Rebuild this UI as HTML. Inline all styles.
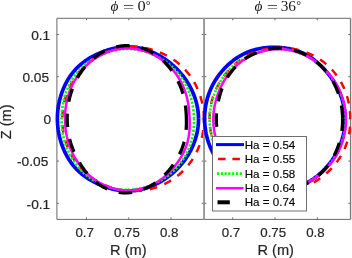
<!DOCTYPE html>
<html><head><meta charset="utf-8"><title>plot</title>
<style>html,body{margin:0;padding:0;background:#fff}svg{display:block;filter:blur(0.25px)}</style></head>
<body>
<svg width="352" height="258" viewBox="0 0 352 258">
<rect width="352" height="258" fill="#fff"/>
<g stroke="#686868" stroke-width="1" fill="none">
<path d="M203.70 18.30H56.90V219.40H203.70"/>
<path d="M86.50 18.30v2.00 M86.50 219.40v-2.00 M128.75 18.30v2.00 M128.75 219.40v-2.00 M171.00 18.30v2.00 M171.00 219.40v-2.00 M56.90 203.28h2.00 M203.70 203.28h-2.00 M56.90 161.09h2.00 M203.70 161.09h-2.00 M56.90 118.90h2.00 M203.70 118.90h-2.00 M56.90 76.71h2.00 M203.70 76.71h-2.00 M56.90 34.53h2.00 M203.70 34.53h-2.00"/>
</g>
<path d="M198.50 118.90 L198.48 117.67 L198.44 116.44 L198.38 115.21 L198.29 113.98 L198.18 112.76 L198.05 111.54 L197.89 110.32 L197.71 109.10 L197.51 107.89 L197.28 106.68 L197.04 105.48 L196.77 104.28 L196.48 103.09 L196.17 101.90 L195.84 100.72 L195.48 99.55 L195.11 98.38 L194.72 97.22 L194.30 96.07 L193.87 94.93 L193.42 93.79 L192.94 92.66 L192.45 91.54 L191.94 90.43 L191.41 89.33 L190.87 88.24 L190.30 87.16 L189.72 86.08 L189.12 85.02 L188.50 83.97 L187.87 82.93 L187.22 81.90 L186.55 80.88 L185.87 79.87 L185.17 78.87 L184.45 77.89 L183.72 76.91 L182.98 75.95 L182.22 75.00 L181.44 74.06 L180.65 73.13 L179.85 72.22 L179.03 71.31 L178.20 70.42 L177.36 69.54 L176.50 68.68 L175.63 67.83 L174.74 66.99 L173.85 66.16 L172.94 65.35 L172.02 64.55 L171.08 63.76 L170.13 62.99 L169.17 62.23 L168.20 61.49 L167.22 60.76 L166.22 60.04 L165.22 59.34 L164.20 58.66 L163.17 57.99 L162.12 57.34 L161.07 56.70 L160.01 56.08 L158.93 55.47 L157.85 54.89 L156.76 54.31 L155.65 53.76 L154.54 53.22 L153.41 52.70 L152.28 52.20 L151.13 51.72 L149.98 51.25 L148.82 50.81 L147.65 50.39 L146.47 49.98 L145.28 49.60 L144.08 49.24 L142.88 48.90 L141.67 48.59 L140.45 48.30 L139.22 48.03 L137.99 47.79 L136.76 47.57 L135.52 47.38 L134.27 47.22 L133.02 47.08 L131.77 46.97 L130.51 46.88 L129.26 46.83 L128.00 46.80 L126.74 46.80 L125.48 46.83 L124.23 46.89 L122.97 46.97 L121.72 47.09 L120.47 47.22 L119.22 47.39 L117.98 47.57 L116.74 47.79 L115.50 48.02 L114.27 48.28 L113.05 48.56 L111.83 48.86 L110.62 49.18 L109.41 49.52 L108.21 49.88 L107.02 50.26 L105.83 50.66 L104.65 51.08 L103.47 51.51 L102.30 51.96 L101.14 52.42 L99.98 52.90 L98.83 53.39 L97.69 53.90 L96.56 54.43 L95.43 54.97 L94.31 55.53 L93.19 56.11 L92.09 56.70 L90.99 57.31 L89.91 57.94 L88.83 58.59 L87.77 59.26 L86.72 59.94 L85.68 60.65 L84.65 61.37 L83.64 62.12 L82.64 62.88 L81.65 63.66 L80.68 64.47 L79.73 65.29 L78.80 66.14 L77.88 67.00 L76.98 67.88 L76.10 68.79 L75.25 69.71 L74.41 70.65 L73.59 71.61 L72.80 72.58 L72.02 73.57 L71.27 74.58 L70.54 75.60 L69.82 76.63 L69.13 77.68 L68.46 78.74 L67.81 79.81 L67.18 80.90 L66.58 81.99 L65.99 83.10 L65.42 84.21 L64.87 85.34 L64.35 86.47 L63.84 87.61 L63.35 88.75 L62.89 89.91 L62.44 91.07 L62.01 92.24 L61.60 93.41 L61.20 94.59 L60.83 95.77 L60.48 96.96 L60.14 98.15 L59.83 99.35 L59.53 100.55 L59.25 101.76 L59.00 102.97 L58.76 104.18 L58.54 105.40 L58.34 106.62 L58.16 107.84 L57.99 109.06 L57.85 110.29 L57.73 111.51 L57.63 112.74 L57.54 113.97 L57.48 115.20 L57.43 116.44 L57.41 117.67 L57.40 118.90 L57.41 120.13 L57.45 121.36 L57.50 122.59 L57.57 123.83 L57.66 125.05 L57.77 126.28 L57.90 127.51 L58.05 128.73 L58.21 129.95 L58.40 131.17 L58.61 132.39 L58.83 133.60 L59.08 134.81 L59.34 136.02 L59.62 137.22 L59.93 138.42 L60.25 139.61 L60.59 140.80 L60.95 141.99 L61.32 143.17 L61.72 144.34 L62.13 145.51 L62.57 146.67 L63.02 147.83 L63.49 148.98 L63.98 150.12 L64.49 151.26 L65.02 152.39 L65.57 153.50 L66.14 154.61 L66.73 155.71 L67.34 156.81 L67.97 157.88 L68.62 158.95 L69.29 160.01 L69.98 161.05 L70.69 162.08 L71.43 163.10 L72.18 164.10 L72.95 165.09 L73.75 166.06 L74.56 167.02 L75.40 167.95 L76.25 168.87 L77.12 169.78 L78.02 170.66 L78.93 171.52 L79.86 172.36 L80.81 173.19 L81.77 173.99 L82.75 174.78 L83.75 175.54 L84.75 176.29 L85.78 177.01 L86.81 177.72 L87.86 178.41 L88.92 179.08 L89.99 179.73 L91.07 180.36 L92.16 180.98 L93.26 181.58 L94.37 182.16 L95.48 182.72 L96.61 183.26 L97.74 183.79 L98.88 184.31 L100.02 184.81 L101.18 185.29 L102.34 185.76 L103.50 186.21 L104.67 186.64 L105.85 187.06 L107.04 187.46 L108.23 187.85 L109.43 188.21 L110.63 188.56 L111.84 188.88 L113.06 189.19 L114.28 189.47 L115.51 189.73 L116.74 189.97 L117.98 190.18 L119.22 190.38 L120.47 190.54 L121.72 190.69 L122.97 190.80 L124.23 190.89 L125.48 190.96 L126.74 190.99 L128.00 191.00 L129.26 190.98 L130.52 190.93 L131.77 190.85 L133.02 190.75 L134.27 190.62 L135.52 190.46 L136.76 190.28 L138.00 190.07 L139.24 189.84 L140.46 189.58 L141.68 189.30 L142.90 188.99 L144.11 188.66 L145.31 188.31 L146.50 187.94 L147.68 187.54 L148.86 187.13 L150.03 186.69 L151.18 186.23 L152.33 185.76 L153.47 185.26 L154.60 184.75 L155.73 184.22 L156.84 183.67 L157.94 183.10 L159.03 182.52 L160.11 181.92 L161.18 181.30 L162.24 180.67 L163.29 180.02 L164.33 179.36 L165.35 178.68 L166.37 177.98 L167.37 177.27 L168.36 176.54 L169.34 175.80 L170.30 175.04 L171.26 174.27 L172.20 173.48 L173.12 172.68 L174.04 171.86 L174.94 171.03 L175.83 170.19 L176.71 169.34 L177.57 168.47 L178.42 167.59 L179.25 166.69 L180.07 165.79 L180.88 164.87 L181.67 163.93 L182.45 162.99 L183.21 162.03 L183.95 161.06 L184.68 160.08 L185.40 159.09 L186.10 158.09 L186.78 157.07 L187.44 156.05 L188.09 155.01 L188.73 153.96 L189.34 152.90 L189.94 151.83 L190.52 150.75 L191.08 149.66 L191.62 148.57 L192.14 147.46 L192.65 146.34 L193.13 145.22 L193.60 144.08 L194.05 142.94 L194.47 141.79 L194.88 140.63 L195.27 139.47 L195.63 138.29 L195.98 137.11 L196.30 135.93 L196.60 134.74 L196.89 133.54 L197.14 132.34 L197.38 131.13 L197.60 129.92 L197.79 128.71 L197.96 127.49 L198.11 126.27 L198.23 125.04 L198.33 123.82 L198.41 122.59 L198.46 121.36 L198.49 120.13 L198.50 118.90" fill="none" stroke="#0000ff" stroke-width="3.7" stroke-linejoin="round"/>
<path d="M204.00 118.90 L203.98 117.57 L203.93 116.25 L203.86 114.92 L203.77 113.60 L203.65 112.28 L203.51 110.96 L203.35 109.65 L203.16 108.34 L202.95 107.03 L202.72 105.72 L202.47 104.42 L202.19 103.13 L201.90 101.84 L201.57 100.56 L201.23 99.28 L200.87 98.01 L200.48 96.74 L200.07 95.48 L199.64 94.23 L199.19 92.99 L198.72 91.75 L198.22 90.53 L197.70 89.31 L197.17 88.10 L196.61 86.91 L196.03 85.72 L195.43 84.54 L194.81 83.38 L194.17 82.22 L193.51 81.08 L192.82 79.95 L192.12 78.83 L191.39 77.73 L190.65 76.64 L189.88 75.57 L189.10 74.51 L188.29 73.47 L187.47 72.44 L186.62 71.43 L185.76 70.44 L184.87 69.46 L183.97 68.50 L183.05 67.56 L182.11 66.65 L181.15 65.75 L180.18 64.87 L179.19 64.01 L178.18 63.17 L177.15 62.36 L176.11 61.56 L175.06 60.79 L173.99 60.03 L172.91 59.30 L171.82 58.59 L170.71 57.90 L169.60 57.23 L168.47 56.58 L167.33 55.95 L166.19 55.35 L165.03 54.76 L163.87 54.19 L162.70 53.65 L161.52 53.12 L160.33 52.62 L159.14 52.13 L157.94 51.66 L156.73 51.21 L155.52 50.78 L154.31 50.37 L153.08 49.98 L151.86 49.61 L150.63 49.26 L149.39 48.92 L148.16 48.61 L146.91 48.32 L145.66 48.05 L144.41 47.80 L143.16 47.58 L141.90 47.37 L140.64 47.19 L139.38 47.03 L138.12 46.90 L136.85 46.79 L135.59 46.70 L134.32 46.63 L133.06 46.60 L131.79 46.58 L130.53 46.59 L129.26 46.63 L128.00 46.69 L126.74 46.78 L125.49 46.89 L124.23 47.03 L122.99 47.19 L121.74 47.38 L120.51 47.59 L119.27 47.83 L118.05 48.09 L116.83 48.37 L115.62 48.68 L114.41 49.01 L113.22 49.36 L112.03 49.73 L110.85 50.13 L109.68 50.54 L108.52 50.98 L107.37 51.43 L106.23 51.91 L105.10 52.41 L103.98 52.92 L102.88 53.45 L101.78 54.00 L100.69 54.57 L99.62 55.16 L98.56 55.76 L97.51 56.38 L96.47 57.01 L95.44 57.67 L94.43 58.33 L93.43 59.02 L92.44 59.72 L91.47 60.43 L90.51 61.17 L89.56 61.91 L88.63 62.67 L87.71 63.45 L86.81 64.23 L85.92 65.04 L85.04 65.85 L84.18 66.68 L83.34 67.52 L82.51 68.38 L81.70 69.24 L80.90 70.12 L80.11 71.01 L79.35 71.92 L78.60 72.83 L77.86 73.76 L77.14 74.69 L76.44 75.64 L75.76 76.59 L75.09 77.56 L74.44 78.54 L73.80 79.52 L73.18 80.52 L72.58 81.52 L71.99 82.53 L71.43 83.55 L70.87 84.58 L70.34 85.61 L69.82 86.65 L69.32 87.70 L68.84 88.76 L68.37 89.82 L67.92 90.89 L67.49 91.96 L67.08 93.04 L66.68 94.12 L66.30 95.22 L65.94 96.31 L65.59 97.41 L65.26 98.52 L64.95 99.62 L64.66 100.74 L64.38 101.85 L64.12 102.97 L63.88 104.10 L63.66 105.22 L63.45 106.35 L63.26 107.48 L63.08 108.62 L62.93 109.75 L62.79 110.89 L62.67 112.03 L62.56 113.18 L62.48 114.32 L62.41 115.46 L62.35 116.61 L62.32 117.75 L62.30 118.90 L62.30 120.05 L62.31 121.19 L62.35 122.34 L62.40 123.49 L62.46 124.63 L62.55 125.78 L62.65 126.92 L62.77 128.07 L62.91 129.21 L63.06 130.35 L63.23 131.49 L63.42 132.63 L63.63 133.76 L63.86 134.89 L64.10 136.02 L64.36 137.15 L64.64 138.27 L64.94 139.39 L65.26 140.50 L65.59 141.61 L65.94 142.72 L66.31 143.82 L66.70 144.92 L67.11 146.01 L67.53 147.10 L67.98 148.18 L68.44 149.25 L68.92 150.31 L69.41 151.37 L69.93 152.43 L70.46 153.47 L71.01 154.51 L71.58 155.54 L72.17 156.56 L72.78 157.57 L73.40 158.57 L74.04 159.56 L74.70 160.54 L75.37 161.52 L76.07 162.48 L76.78 163.43 L77.51 164.37 L78.25 165.29 L79.01 166.21 L79.79 167.11 L80.58 168.00 L81.40 168.88 L82.22 169.74 L83.07 170.59 L83.93 171.43 L84.80 172.25 L85.69 173.05 L86.59 173.85 L87.51 174.62 L88.45 175.39 L89.40 176.13 L90.36 176.86 L91.33 177.58 L92.32 178.28 L93.33 178.96 L94.34 179.62 L95.37 180.27 L96.41 180.90 L97.46 181.52 L98.52 182.11 L99.60 182.69 L100.68 183.25 L101.78 183.79 L102.89 184.32 L104.01 184.82 L105.13 185.31 L106.27 185.78 L107.42 186.23 L108.57 186.66 L109.74 187.07 L110.91 187.46 L112.09 187.83 L113.27 188.18 L114.47 188.51 L115.67 188.82 L116.88 189.11 L118.09 189.38 L119.32 189.63 L120.54 189.86 L121.77 190.07 L123.01 190.26 L124.25 190.42 L125.50 190.57 L126.75 190.70 L128.00 190.80 L129.26 190.88 L130.52 190.94 L131.78 190.99 L133.04 191.00 L134.31 191.00 L135.58 190.98 L136.84 190.93 L138.11 190.86 L139.38 190.77 L140.65 190.65 L141.92 190.52 L143.19 190.36 L144.46 190.18 L145.72 189.97 L146.98 189.75 L148.24 189.50 L149.50 189.22 L150.75 188.93 L152.00 188.61 L153.25 188.27 L154.49 187.90 L155.72 187.52 L156.95 187.11 L158.17 186.67 L159.39 186.21 L160.60 185.73 L161.80 185.23 L162.99 184.71 L164.17 184.16 L165.35 183.59 L166.51 183.00 L167.67 182.38 L168.81 181.74 L169.94 181.08 L171.06 180.40 L172.17 179.70 L173.27 178.97 L174.35 178.22 L175.42 177.46 L176.47 176.67 L177.51 175.86 L178.54 175.03 L179.55 174.18 L180.54 173.30 L181.51 172.41 L182.47 171.50 L183.41 170.57 L184.34 169.63 L185.24 168.66 L186.13 167.68 L187.00 166.68 L187.85 165.66 L188.68 164.62 L189.49 163.57 L190.28 162.51 L191.05 161.43 L191.80 160.33 L192.52 159.22 L193.23 158.10 L193.92 156.96 L194.58 155.81 L195.23 154.64 L195.85 153.47 L196.45 152.28 L197.03 151.09 L197.58 149.88 L198.11 148.66 L198.62 147.43 L199.11 146.20 L199.58 144.95 L200.02 143.70 L200.44 142.44 L200.84 141.17 L201.21 139.89 L201.56 138.61 L201.88 137.32 L202.19 136.03 L202.47 134.73 L202.72 133.42 L202.96 132.12 L203.17 130.81 L203.35 129.49 L203.52 128.17 L203.66 126.85 L203.77 125.53 L203.86 124.20 L203.93 122.88 L203.98 121.55 L204.00 120.23 L204.00 118.90" fill="none" stroke="#ff0000" stroke-width="2.5" pathLength="29.2403" stroke-dasharray="0.5002 0.4998" stroke-linejoin="round"/>
<path d="M194.00 118.90 L193.97 117.75 L193.92 116.60 L193.86 115.45 L193.79 114.30 L193.70 113.15 L193.59 112.01 L193.47 110.86 L193.33 109.72 L193.18 108.58 L193.01 107.44 L192.83 106.30 L192.63 105.16 L192.41 104.03 L192.17 102.90 L191.92 101.77 L191.65 100.65 L191.37 99.53 L191.07 98.41 L190.75 97.29 L190.41 96.18 L190.06 95.08 L189.69 93.98 L189.30 92.88 L188.89 91.79 L188.46 90.71 L188.02 89.63 L187.56 88.55 L187.08 87.49 L186.58 86.43 L186.06 85.38 L185.53 84.33 L184.97 83.30 L184.40 82.27 L183.81 81.26 L183.20 80.25 L182.57 79.25 L181.92 78.27 L181.26 77.29 L180.57 76.33 L179.87 75.38 L179.15 74.44 L178.41 73.51 L177.65 72.60 L176.88 71.70 L176.08 70.82 L175.27 69.95 L174.44 69.10 L173.60 68.26 L172.74 67.44 L171.86 66.63 L170.97 65.84 L170.06 65.07 L169.14 64.31 L168.20 63.57 L167.25 62.84 L166.29 62.14 L165.31 61.44 L164.32 60.77 L163.32 60.11 L162.31 59.47 L161.29 58.85 L160.25 58.24 L159.21 57.65 L158.15 57.08 L157.09 56.52 L156.01 55.98 L154.93 55.45 L153.84 54.95 L152.74 54.46 L151.63 53.98 L150.51 53.53 L149.38 53.09 L148.25 52.67 L147.11 52.27 L145.95 51.89 L144.80 51.53 L143.63 51.20 L142.46 50.88 L141.28 50.58 L140.09 50.31 L138.90 50.06 L137.71 49.83 L136.51 49.63 L135.30 49.45 L134.09 49.29 L132.88 49.16 L131.66 49.06 L130.44 48.98 L129.22 48.93 L128.00 48.90 L126.78 48.90 L125.56 48.93 L124.34 48.98 L123.12 49.06 L121.90 49.17 L120.68 49.30 L119.47 49.46 L118.27 49.64 L117.06 49.84 L115.86 50.07 L114.67 50.32 L113.48 50.59 L112.30 50.89 L111.12 51.20 L109.95 51.54 L108.79 51.90 L107.63 52.28 L106.48 52.67 L105.34 53.09 L104.21 53.52 L103.08 53.98 L101.96 54.45 L100.85 54.94 L99.75 55.44 L98.65 55.96 L97.57 56.50 L96.49 57.06 L95.43 57.64 L94.37 58.23 L93.32 58.84 L92.29 59.47 L91.27 60.11 L90.25 60.78 L89.26 61.46 L88.27 62.16 L87.30 62.88 L86.34 63.61 L85.40 64.37 L84.47 65.14 L83.55 65.93 L82.66 66.74 L81.78 67.56 L80.92 68.41 L80.07 69.27 L79.24 70.14 L78.44 71.04 L77.65 71.95 L76.88 72.87 L76.14 73.81 L75.41 74.77 L74.70 75.74 L74.01 76.72 L73.34 77.71 L72.69 78.72 L72.06 79.73 L71.45 80.76 L70.87 81.80 L70.30 82.84 L69.75 83.90 L69.22 84.96 L68.70 86.03 L68.21 87.11 L67.74 88.20 L67.29 89.29 L66.85 90.39 L66.43 91.49 L66.03 92.60 L65.65 93.71 L65.29 94.83 L64.94 95.95 L64.62 97.08 L64.31 98.20 L64.01 99.34 L63.74 100.47 L63.48 101.61 L63.24 102.75 L63.02 103.90 L62.81 105.04 L62.62 106.19 L62.44 107.34 L62.29 108.49 L62.15 109.65 L62.02 110.80 L61.91 111.95 L61.82 113.11 L61.75 114.27 L61.69 115.42 L61.64 116.58 L61.61 117.74 L61.60 118.90 L61.60 120.06 L61.62 121.22 L61.65 122.38 L61.70 123.54 L61.77 124.69 L61.85 125.85 L61.95 127.01 L62.06 128.17 L62.19 129.32 L62.34 130.48 L62.50 131.63 L62.68 132.78 L62.88 133.93 L63.10 135.08 L63.33 136.23 L63.58 137.37 L63.85 138.51 L64.13 139.65 L64.44 140.79 L64.76 141.92 L65.10 143.04 L65.46 144.17 L65.84 145.29 L66.23 146.40 L66.65 147.51 L67.08 148.61 L67.53 149.71 L68.01 150.80 L68.50 151.88 L69.00 152.96 L69.53 154.03 L70.08 155.09 L70.65 156.15 L71.23 157.19 L71.84 158.23 L72.46 159.25 L73.10 160.27 L73.76 161.27 L74.45 162.27 L75.15 163.25 L75.86 164.22 L76.60 165.18 L77.36 166.12 L78.13 167.06 L78.93 167.97 L79.74 168.88 L80.57 169.76 L81.41 170.64 L82.28 171.50 L83.16 172.34 L84.06 173.16 L84.97 173.97 L85.90 174.77 L86.85 175.54 L87.81 176.30 L88.78 177.04 L89.77 177.76 L90.78 178.47 L91.80 179.15 L92.83 179.82 L93.87 180.47 L94.93 181.09 L96.00 181.70 L97.08 182.29 L98.17 182.86 L99.28 183.41 L100.39 183.94 L101.52 184.45 L102.65 184.94 L103.79 185.41 L104.95 185.85 L106.11 186.28 L107.28 186.68 L108.46 187.06 L109.64 187.42 L110.83 187.75 L112.03 188.06 L113.24 188.35 L114.45 188.62 L115.66 188.86 L116.89 189.07 L118.11 189.27 L119.34 189.43 L120.57 189.58 L121.81 189.69 L123.04 189.79 L124.28 189.85 L125.52 189.89 L126.76 189.91 L128.00 189.90 L129.24 189.86 L130.48 189.80 L131.71 189.72 L132.94 189.60 L134.17 189.47 L135.40 189.31 L136.62 189.12 L137.84 188.91 L139.05 188.68 L140.26 188.42 L141.46 188.15 L142.66 187.85 L143.84 187.53 L145.03 187.19 L146.20 186.82 L147.37 186.44 L148.53 186.04 L149.68 185.61 L150.82 185.17 L151.95 184.71 L153.08 184.23 L154.19 183.73 L155.30 183.22 L156.40 182.69 L157.49 182.14 L158.57 181.57 L159.64 180.99 L160.69 180.39 L161.74 179.77 L162.78 179.14 L163.80 178.48 L164.81 177.81 L165.81 177.13 L166.80 176.43 L167.78 175.71 L168.74 174.97 L169.68 174.22 L170.62 173.45 L171.54 172.66 L172.44 171.86 L173.33 171.04 L174.20 170.21 L175.06 169.36 L175.90 168.50 L176.72 167.62 L177.53 166.73 L178.31 165.82 L179.08 164.90 L179.84 163.96 L180.57 163.01 L181.28 162.05 L181.98 161.07 L182.66 160.09 L183.32 159.09 L183.96 158.08 L184.58 157.06 L185.18 156.03 L185.76 154.99 L186.32 153.94 L186.86 152.88 L187.38 151.81 L187.88 150.74 L188.36 149.66 L188.82 148.56 L189.26 147.47 L189.68 146.36 L190.08 145.25 L190.46 144.13 L190.81 143.01 L191.15 141.88 L191.47 140.75 L191.76 139.62 L192.04 138.48 L192.30 137.34 L192.54 136.19 L192.76 135.05 L192.96 133.90 L193.14 132.75 L193.31 131.59 L193.45 130.44 L193.58 129.29 L193.69 128.13 L193.79 126.98 L193.87 125.82 L193.93 124.67 L193.97 123.51 L194.00 122.36 L194.02 121.21 L194.02 120.05 L194.00 118.90" fill="none" stroke="#00ff00" stroke-width="2.7" stroke-dasharray="2.2 1.6" stroke-linejoin="round"/>
<path d="M189.60 118.90 L189.56 117.83 L189.52 116.75 L189.46 115.68 L189.40 114.61 L189.33 113.53 L189.25 112.46 L189.16 111.39 L189.06 110.32 L188.95 109.25 L188.83 108.17 L188.70 107.10 L188.55 106.03 L188.40 104.96 L188.22 103.88 L188.04 102.81 L187.84 101.74 L187.63 100.67 L187.40 99.60 L187.16 98.53 L186.90 97.46 L186.62 96.40 L186.33 95.33 L186.02 94.27 L185.69 93.21 L185.35 92.16 L184.98 91.11 L184.60 90.06 L184.20 89.02 L183.79 87.98 L183.35 86.94 L182.90 85.91 L182.43 84.89 L181.94 83.87 L181.43 82.86 L180.91 81.85 L180.37 80.85 L179.81 79.86 L179.23 78.88 L178.63 77.90 L178.01 76.93 L177.38 75.97 L176.73 75.02 L176.06 74.08 L175.37 73.15 L174.67 72.23 L173.95 71.32 L173.21 70.42 L172.45 69.53 L171.67 68.66 L170.88 67.80 L170.07 66.94 L169.25 66.11 L168.40 65.28 L167.54 64.47 L166.67 63.68 L165.77 62.90 L164.86 62.14 L163.94 61.39 L162.99 60.66 L162.04 59.95 L161.07 59.25 L160.08 58.57 L159.08 57.91 L158.06 57.27 L157.03 56.65 L155.98 56.05 L154.93 55.46 L153.86 54.90 L152.77 54.36 L151.68 53.84 L150.57 53.35 L149.45 52.87 L148.33 52.42 L147.19 51.99 L146.04 51.58 L144.88 51.20 L143.71 50.84 L142.54 50.51 L141.35 50.20 L140.16 49.92 L138.97 49.66 L137.76 49.42 L136.56 49.22 L135.34 49.03 L134.13 48.88 L132.91 48.75 L131.68 48.65 L130.46 48.57 L129.23 48.52 L128.00 48.50 L126.77 48.51 L125.54 48.54 L124.32 48.60 L123.09 48.68 L121.87 48.80 L120.65 48.94 L119.43 49.10 L118.22 49.29 L117.01 49.51 L115.81 49.76 L114.61 50.02 L113.42 50.32 L112.24 50.64 L111.07 50.98 L109.90 51.34 L108.74 51.74 L107.59 52.15 L106.45 52.59 L105.32 53.05 L104.21 53.53 L103.10 54.03 L102.00 54.56 L100.92 55.11 L99.85 55.67 L98.79 56.26 L97.75 56.87 L96.71 57.50 L95.70 58.15 L94.69 58.81 L93.70 59.50 L92.73 60.20 L91.77 60.92 L90.82 61.65 L89.90 62.41 L88.98 63.18 L88.09 63.96 L87.21 64.76 L86.34 65.58 L85.49 66.41 L84.66 67.25 L83.85 68.11 L83.05 68.98 L82.27 69.86 L81.51 70.76 L80.77 71.67 L80.04 72.58 L79.33 73.51 L78.64 74.45 L77.96 75.40 L77.31 76.36 L76.67 77.33 L76.05 78.31 L75.44 79.29 L74.86 80.29 L74.29 81.29 L73.74 82.30 L73.21 83.32 L72.69 84.34 L72.20 85.37 L71.72 86.41 L71.26 87.45 L70.81 88.49 L70.39 89.54 L69.98 90.60 L69.58 91.66 L69.21 92.72 L68.85 93.79 L68.51 94.86 L68.18 95.94 L67.88 97.02 L67.59 98.10 L67.31 99.18 L67.05 100.27 L66.81 101.35 L66.58 102.44 L66.37 103.53 L66.18 104.63 L66.00 105.72 L65.83 106.82 L65.68 107.91 L65.55 109.01 L65.43 110.11 L65.33 111.20 L65.24 112.30 L65.16 113.40 L65.10 114.50 L65.06 115.60 L65.02 116.70 L65.00 117.80 L65.00 118.90 L65.01 120.00 L65.03 121.10 L65.07 122.20 L65.12 123.30 L65.18 124.40 L65.26 125.49 L65.36 126.59 L65.46 127.69 L65.59 128.79 L65.72 129.88 L65.88 130.98 L66.04 132.07 L66.23 133.16 L66.42 134.25 L66.64 135.34 L66.86 136.43 L67.11 137.52 L67.37 138.60 L67.64 139.68 L67.93 140.76 L68.24 141.84 L68.57 142.91 L68.91 143.98 L69.26 145.05 L69.63 146.12 L70.02 147.18 L70.43 148.23 L70.85 149.29 L71.29 150.33 L71.75 151.38 L72.22 152.41 L72.72 153.45 L73.22 154.47 L73.75 155.49 L74.29 156.51 L74.85 157.51 L75.43 158.51 L76.02 159.51 L76.64 160.49 L77.27 161.47 L77.91 162.44 L78.58 163.40 L79.26 164.35 L79.96 165.29 L80.67 166.23 L81.41 167.15 L82.16 168.06 L82.93 168.96 L83.71 169.85 L84.51 170.73 L85.33 171.59 L86.17 172.44 L87.02 173.28 L87.89 174.10 L88.78 174.91 L89.68 175.71 L90.60 176.49 L91.54 177.25 L92.49 178.00 L93.46 178.73 L94.44 179.44 L95.44 180.13 L96.46 180.81 L97.48 181.47 L98.53 182.10 L99.58 182.72 L100.66 183.32 L101.74 183.89 L102.84 184.45 L103.95 184.98 L105.07 185.49 L106.21 185.98 L107.35 186.44 L108.51 186.88 L109.67 187.30 L110.85 187.69 L112.03 188.06 L113.23 188.40 L114.43 188.71 L115.64 189.00 L116.86 189.27 L118.08 189.50 L119.31 189.71 L120.54 189.89 L121.78 190.05 L123.02 190.18 L124.26 190.27 L125.51 190.35 L126.75 190.39 L128.00 190.40 L129.25 190.38 L130.49 190.34 L131.74 190.27 L132.98 190.16 L134.22 190.03 L135.46 189.88 L136.69 189.69 L137.92 189.48 L139.14 189.23 L140.35 188.96 L141.56 188.67 L142.76 188.35 L143.95 188.00 L145.13 187.62 L146.31 187.22 L147.47 186.80 L148.62 186.34 L149.76 185.87 L150.89 185.37 L152.00 184.84 L153.10 184.30 L154.19 183.73 L155.27 183.13 L156.32 182.52 L157.37 181.88 L158.40 181.23 L159.41 180.55 L160.41 179.85 L161.39 179.14 L162.36 178.41 L163.31 177.66 L164.24 176.90 L165.16 176.12 L166.06 175.33 L166.95 174.52 L167.82 173.71 L168.67 172.87 L169.51 172.03 L170.33 171.18 L171.14 170.31 L171.93 169.44 L172.71 168.55 L173.47 167.66 L174.22 166.76 L174.95 165.85 L175.67 164.94 L176.38 164.01 L177.07 163.08 L177.75 162.14 L178.41 161.20 L179.05 160.24 L179.69 159.28 L180.30 158.31 L180.90 157.33 L181.48 156.35 L182.04 155.35 L182.59 154.35 L183.12 153.34 L183.63 152.32 L184.12 151.30 L184.59 150.27 L185.04 149.23 L185.47 148.18 L185.87 147.13 L186.26 146.07 L186.63 145.00 L186.97 143.93 L187.28 142.85 L187.58 141.77 L187.85 140.68 L188.10 139.59 L188.33 138.50 L188.54 137.41 L188.72 136.31 L188.89 135.22 L189.04 134.12 L189.17 133.02 L189.29 131.93 L189.38 130.83 L189.47 129.74 L189.53 128.65 L189.59 127.56 L189.63 126.47 L189.65 125.38 L189.67 124.30 L189.67 123.21 L189.67 122.13 L189.65 121.05 L189.63 119.98 L189.60 118.90" fill="none" stroke="#ff00ff" stroke-width="2.5" stroke-linejoin="round"/>
<path d="M186.40 118.90 L186.37 117.88 L186.34 116.86 L186.30 115.84 L186.26 114.83 L186.20 113.81 L186.14 112.79 L186.06 111.77 L185.98 110.75 L185.89 109.73 L185.79 108.71 L185.68 107.69 L185.55 106.67 L185.42 105.64 L185.27 104.62 L185.12 103.60 L184.95 102.57 L184.77 101.54 L184.57 100.52 L184.36 99.49 L184.14 98.47 L183.91 97.44 L183.66 96.41 L183.39 95.39 L183.11 94.36 L182.81 93.34 L182.50 92.32 L182.18 91.30 L181.84 90.28 L181.48 89.26 L181.11 88.24 L180.72 87.22 L180.31 86.21 L179.89 85.20 L179.46 84.19 L179.00 83.19 L178.53 82.19 L178.05 81.19 L177.55 80.19 L177.03 79.20 L176.50 78.21 L175.94 77.22 L175.38 76.24 L174.79 75.27 L174.19 74.29 L173.57 73.33 L172.94 72.37 L172.29 71.41 L171.62 70.46 L170.93 69.52 L170.22 68.58 L169.50 67.65 L168.76 66.74 L167.99 65.83 L167.21 64.93 L166.41 64.04 L165.60 63.16 L164.76 62.30 L163.90 61.44 L163.03 60.61 L162.13 59.78 L161.22 58.97 L160.28 58.18 L159.33 57.41 L158.36 56.65 L157.37 55.91 L156.37 55.19 L155.34 54.49 L154.30 53.81 L153.24 53.15 L152.16 52.51 L151.07 51.90 L149.96 51.31 L148.84 50.75 L147.70 50.21 L146.54 49.70 L145.38 49.21 L144.19 48.75 L143.00 48.32 L141.80 47.92 L140.58 47.55 L139.35 47.21 L138.12 46.90 L136.87 46.62 L135.62 46.38 L134.36 46.16 L133.10 45.99 L131.83 45.84 L130.56 45.73 L129.28 45.65 L128.00 45.61 L126.72 45.60 L125.44 45.63 L124.16 45.70 L122.89 45.80 L121.62 45.93 L120.35 46.10 L119.09 46.30 L117.83 46.53 L116.58 46.79 L115.34 47.09 L114.11 47.42 L112.88 47.78 L111.67 48.16 L110.47 48.58 L109.28 49.02 L108.10 49.50 L106.93 50.00 L105.78 50.52 L104.65 51.07 L103.52 51.65 L102.42 52.25 L101.32 52.87 L100.25 53.52 L99.19 54.19 L98.15 54.88 L97.12 55.59 L96.11 56.32 L95.12 57.07 L94.15 57.84 L93.20 58.62 L92.26 59.42 L91.35 60.24 L90.45 61.07 L89.57 61.92 L88.71 62.78 L87.86 63.66 L87.04 64.55 L86.24 65.45 L85.45 66.36 L84.68 67.28 L83.93 68.21 L83.20 69.15 L82.49 70.10 L81.80 71.05 L81.12 72.02 L80.46 72.99 L79.82 73.97 L79.19 74.95 L78.58 75.94 L77.99 76.94 L77.42 77.94 L76.86 78.95 L76.33 79.96 L75.80 80.98 L75.30 82.00 L74.81 83.02 L74.34 84.05 L73.88 85.08 L73.44 86.12 L73.02 87.16 L72.61 88.20 L72.22 89.24 L71.85 90.29 L71.49 91.34 L71.14 92.39 L70.81 93.44 L70.50 94.49 L70.20 95.55 L69.92 96.61 L69.65 97.66 L69.40 98.72 L69.16 99.78 L68.94 100.84 L68.73 101.90 L68.53 102.97 L68.35 104.03 L68.18 105.09 L68.03 106.15 L67.89 107.22 L67.76 108.28 L67.65 109.34 L67.55 110.40 L67.46 111.47 L67.38 112.53 L67.32 113.59 L67.27 114.65 L67.24 115.72 L67.21 116.78 L67.20 117.84 L67.20 118.90 L67.21 119.96 L67.24 121.02 L67.27 122.08 L67.32 123.14 L67.39 124.20 L67.46 125.26 L67.55 126.32 L67.65 127.38 L67.76 128.44 L67.89 129.50 L68.02 130.56 L68.18 131.62 L68.34 132.67 L68.52 133.73 L68.72 134.78 L68.92 135.84 L69.14 136.89 L69.38 137.95 L69.63 139.00 L69.89 140.05 L70.17 141.10 L70.47 142.15 L70.77 143.19 L71.10 144.23 L71.43 145.28 L71.79 146.32 L72.16 147.35 L72.54 148.39 L72.93 149.42 L73.35 150.45 L73.77 151.48 L74.21 152.51 L74.67 153.53 L75.14 154.55 L75.63 155.57 L76.13 156.59 L76.64 157.60 L77.17 158.61 L77.72 159.62 L78.28 160.62 L78.85 161.62 L79.44 162.62 L80.05 163.62 L80.67 164.61 L81.30 165.60 L81.95 166.58 L82.62 167.56 L83.30 168.54 L84.00 169.51 L84.72 170.48 L85.46 171.43 L86.21 172.38 L86.99 173.32 L87.78 174.25 L88.60 175.17 L89.43 176.08 L90.28 176.98 L91.16 177.86 L92.05 178.72 L92.97 179.58 L93.91 180.41 L94.86 181.22 L95.84 182.02 L96.84 182.79 L97.85 183.55 L98.89 184.28 L99.95 184.98 L101.03 185.66 L102.12 186.32 L103.23 186.95 L104.36 187.55 L105.51 188.12 L106.67 188.66 L107.85 189.17 L109.04 189.65 L110.25 190.10 L111.46 190.52 L112.69 190.91 L113.93 191.26 L115.18 191.58 L116.44 191.86 L117.71 192.11 L118.98 192.33 L120.26 192.51 L121.55 192.65 L122.84 192.75 L124.13 192.82 L125.42 192.85 L126.71 192.85 L128.00 192.80 L129.29 192.72 L130.57 192.60 L131.85 192.44 L133.13 192.24 L134.40 192.02 L135.66 191.75 L136.91 191.46 L138.15 191.13 L139.38 190.77 L140.60 190.37 L141.81 189.95 L143.01 189.50 L144.19 189.02 L145.36 188.52 L146.51 187.99 L147.65 187.43 L148.78 186.86 L149.88 186.25 L150.98 185.63 L152.05 184.99 L153.11 184.32 L154.16 183.64 L155.18 182.94 L156.19 182.23 L157.19 181.49 L158.16 180.74 L159.12 179.98 L160.06 179.20 L160.99 178.41 L161.90 177.61 L162.78 176.79 L163.66 175.96 L164.51 175.12 L165.35 174.27 L166.17 173.41 L166.97 172.54 L167.76 171.66 L168.53 170.78 L169.28 169.88 L170.02 168.98 L170.74 168.07 L171.45 167.15 L172.13 166.23 L172.81 165.30 L173.47 164.37 L174.11 163.43 L174.74 162.49 L175.35 161.54 L175.95 160.58 L176.54 159.63 L177.10 158.66 L177.66 157.70 L178.19 156.72 L178.71 155.75 L179.22 154.76 L179.71 153.78 L180.18 152.78 L180.63 151.79 L181.07 150.79 L181.49 149.78 L181.90 148.77 L182.28 147.76 L182.65 146.75 L183.00 145.73 L183.33 144.70 L183.65 143.67 L183.94 142.64 L184.21 141.61 L184.47 140.58 L184.71 139.54 L184.93 138.50 L185.13 137.46 L185.32 136.42 L185.48 135.38 L185.64 134.34 L185.77 133.30 L185.90 132.27 L186.00 131.23 L186.10 130.19 L186.18 129.16 L186.25 128.13 L186.31 127.09 L186.35 126.06 L186.39 125.04 L186.41 124.01 L186.43 122.99 L186.43 121.96 L186.43 120.94 L186.42 119.92 L186.40 118.90" fill="none" stroke="#000000" stroke-width="3.3" pathLength="16.4312" stroke-dasharray="0.5292 0.4708" stroke-linejoin="round"/>
<rect x="204.40" y="18.30" width="147.60" height="201.10" fill="#fff"/>
<g stroke="#686868" stroke-width="1" fill="none">
<path d="M203.40 18.30H350.40V219.40H203.40"/>
<path d="M204.05 18.30V219.40" stroke="#989898" stroke-width="1.9"/>
<path d="M232.75 18.30v2.00 M232.75 219.40v-2.00 M275.00 18.30v2.00 M275.00 219.40v-2.00 M317.25 18.30v2.00 M317.25 219.40v-2.00 M204.40 203.28h2.00 M350.40 203.28h-2.00 M204.40 161.09h2.00 M350.40 161.09h-2.00 M204.40 118.90h2.00 M350.40 118.90h-2.00 M204.40 76.71h2.00 M350.40 76.71h-2.00 M204.40 34.53h2.00 M350.40 34.53h-2.00"/>
</g>
<path d="M345.00 118.90 L344.98 117.70 L344.94 116.51 L344.88 115.32 L344.80 114.12 L344.69 112.93 L344.57 111.75 L344.43 110.56 L344.26 109.38 L344.08 108.20 L343.88 107.02 L343.65 105.85 L343.41 104.68 L343.14 103.51 L342.86 102.35 L342.56 101.20 L342.23 100.05 L341.89 98.91 L341.52 97.77 L341.14 96.64 L340.74 95.52 L340.32 94.40 L339.87 93.29 L339.41 92.19 L338.94 91.10 L338.44 90.02 L337.92 88.94 L337.39 87.88 L336.84 86.82 L336.27 85.77 L335.69 84.73 L335.09 83.70 L334.47 82.68 L333.84 81.66 L333.19 80.66 L332.53 79.67 L331.85 78.68 L331.16 77.71 L330.46 76.74 L329.74 75.79 L329.00 74.84 L328.26 73.91 L327.50 72.98 L326.73 72.06 L325.95 71.15 L325.15 70.25 L324.34 69.36 L323.52 68.48 L322.69 67.61 L321.84 66.74 L320.98 65.89 L320.10 65.06 L319.21 64.23 L318.31 63.41 L317.39 62.61 L316.46 61.83 L315.52 61.06 L314.56 60.30 L313.58 59.56 L312.59 58.84 L311.58 58.13 L310.56 57.45 L309.53 56.78 L308.48 56.13 L307.42 55.50 L306.34 54.90 L305.25 54.32 L304.15 53.76 L303.03 53.23 L301.91 52.72 L300.77 52.23 L299.62 51.77 L298.45 51.33 L297.28 50.92 L296.11 50.53 L294.92 50.16 L293.72 49.82 L292.52 49.50 L291.31 49.20 L290.10 48.93 L288.88 48.68 L287.66 48.45 L286.43 48.24 L285.20 48.05 L283.96 47.88 L282.73 47.74 L281.48 47.61 L280.24 47.50 L279.00 47.42 L277.75 47.35 L276.50 47.30 L275.25 47.27 L274.00 47.26 L272.75 47.26 L271.49 47.29 L270.24 47.33 L268.99 47.40 L267.73 47.49 L266.48 47.59 L265.23 47.72 L263.98 47.87 L262.73 48.05 L261.48 48.24 L260.24 48.46 L259.00 48.70 L257.76 48.97 L256.53 49.26 L255.30 49.57 L254.08 49.91 L252.87 50.27 L251.66 50.66 L250.46 51.07 L249.27 51.51 L248.09 51.97 L246.92 52.46 L245.76 52.97 L244.60 53.51 L243.47 54.07 L242.34 54.65 L241.22 55.26 L240.12 55.88 L239.03 56.53 L237.95 57.21 L236.89 57.90 L235.83 58.61 L234.80 59.34 L233.77 60.09 L232.77 60.86 L231.77 61.65 L230.79 62.46 L229.83 63.28 L228.88 64.12 L227.95 64.98 L227.03 65.85 L226.12 66.73 L225.23 67.63 L224.36 68.55 L223.50 69.48 L222.66 70.42 L221.84 71.38 L221.03 72.35 L220.24 73.34 L219.46 74.34 L218.70 75.35 L217.96 76.37 L217.24 77.41 L216.54 78.45 L215.85 79.51 L215.18 80.58 L214.53 81.67 L213.90 82.76 L213.29 83.86 L212.70 84.98 L212.13 86.10 L211.58 87.23 L211.04 88.38 L210.53 89.53 L210.04 90.69 L209.57 91.86 L209.12 93.04 L208.70 94.22 L208.29 95.41 L207.90 96.61 L207.54 97.82 L207.20 99.03 L206.88 100.24 L206.58 101.47 L206.30 102.69 L206.04 103.92 L205.80 105.16 L205.59 106.40 L205.39 107.64 L205.22 108.88 L205.07 110.13 L204.94 111.38 L204.83 112.63 L204.74 113.88 L204.68 115.14 L204.63 116.39 L204.60 117.65 L204.60 118.90 L204.62 120.15 L204.65 121.41 L204.71 122.66 L204.79 123.91 L204.89 125.17 L205.01 126.41 L205.15 127.66 L205.31 128.90 L205.50 130.15 L205.70 131.38 L205.93 132.62 L206.17 133.85 L206.44 135.08 L206.72 136.30 L207.03 137.51 L207.36 138.73 L207.71 139.93 L208.08 141.13 L208.47 142.33 L208.88 143.51 L209.31 144.69 L209.76 145.87 L210.23 147.03 L210.72 148.19 L211.23 149.34 L211.76 150.48 L212.31 151.61 L212.88 152.73 L213.46 153.84 L214.07 154.94 L214.70 156.03 L215.34 157.11 L216.01 158.18 L216.69 159.24 L217.39 160.29 L218.11 161.32 L218.85 162.34 L219.61 163.35 L220.38 164.35 L221.17 165.33 L221.98 166.30 L222.80 167.25 L223.64 168.19 L224.50 169.11 L225.38 170.02 L226.27 170.92 L227.17 171.80 L228.10 172.66 L229.03 173.51 L229.98 174.33 L230.95 175.15 L231.93 175.94 L232.93 176.72 L233.94 177.48 L234.96 178.22 L236.00 178.95 L237.05 179.65 L238.11 180.34 L239.18 181.00 L240.27 181.65 L241.37 182.28 L242.48 182.89 L243.60 183.47 L244.73 184.04 L245.87 184.59 L247.02 185.11 L248.18 185.62 L249.35 186.10 L250.53 186.56 L251.71 187.00 L252.91 187.42 L254.11 187.82 L255.32 188.19 L256.53 188.54 L257.75 188.87 L258.98 189.18 L260.21 189.46 L261.45 189.72 L262.69 189.96 L263.93 190.17 L265.18 190.36 L266.43 190.53 L267.69 190.67 L268.94 190.79 L270.20 190.88 L271.46 190.95 L272.72 191.00 L273.98 191.02 L275.24 191.02 L276.50 191.00 L277.76 190.95 L279.01 190.88 L280.27 190.78 L281.52 190.66 L282.77 190.52 L284.01 190.35 L285.25 190.16 L286.49 189.95 L287.72 189.71 L288.94 189.46 L290.16 189.18 L291.37 188.87 L292.58 188.55 L293.78 188.20 L294.97 187.83 L296.15 187.44 L297.33 187.03 L298.50 186.60 L299.66 186.15 L300.81 185.68 L301.95 185.19 L303.08 184.68 L304.19 184.14 L305.30 183.59 L306.40 183.02 L307.49 182.44 L308.56 181.83 L309.63 181.21 L310.68 180.56 L311.72 179.90 L312.75 179.23 L313.76 178.53 L314.77 177.82 L315.75 177.10 L316.73 176.35 L317.69 175.60 L318.64 174.82 L319.58 174.03 L320.50 173.23 L321.40 172.41 L322.29 171.58 L323.17 170.73 L324.03 169.87 L324.88 169.00 L325.71 168.11 L326.53 167.22 L327.33 166.30 L328.12 165.38 L328.89 164.44 L329.65 163.50 L330.39 162.54 L331.11 161.57 L331.82 160.59 L332.51 159.59 L333.18 158.59 L333.84 157.57 L334.48 156.55 L335.10 155.52 L335.70 154.47 L336.29 153.42 L336.86 152.36 L337.41 151.29 L337.94 150.21 L338.46 149.12 L338.95 148.02 L339.43 146.92 L339.89 145.81 L340.33 144.69 L340.75 143.56 L341.15 142.43 L341.53 141.29 L341.89 140.15 L342.23 139.00 L342.56 137.84 L342.86 136.68 L343.14 135.52 L343.41 134.35 L343.65 133.17 L343.88 132.00 L344.08 130.82 L344.26 129.63 L344.43 128.45 L344.57 127.26 L344.69 126.07 L344.79 124.88 L344.88 123.68 L344.94 122.49 L344.98 121.29 L345.00 120.10 L345.00 118.90" fill="none" stroke="#0000ff" stroke-width="3.7" stroke-linejoin="round"/>
<path d="M350.30 118.90 L350.28 117.61 L350.25 116.32 L350.19 115.04 L350.12 113.75 L350.02 112.47 L349.91 111.18 L349.77 109.90 L349.62 108.62 L349.45 107.35 L349.25 106.07 L349.03 104.80 L348.80 103.53 L348.54 102.27 L348.26 101.01 L347.96 99.75 L347.63 98.50 L347.29 97.26 L346.92 96.02 L346.53 94.79 L346.12 93.56 L345.69 92.34 L345.23 91.13 L344.75 89.93 L344.25 88.73 L343.73 87.55 L343.18 86.38 L342.62 85.21 L342.03 84.06 L341.42 82.92 L340.78 81.79 L340.13 80.67 L339.45 79.56 L338.76 78.47 L338.04 77.39 L337.30 76.33 L336.54 75.28 L335.76 74.24 L334.96 73.22 L334.15 72.22 L333.31 71.23 L332.45 70.26 L331.58 69.31 L330.69 68.37 L329.78 67.45 L328.85 66.55 L327.90 65.67 L326.94 64.81 L325.96 63.97 L324.97 63.15 L323.96 62.34 L322.93 61.56 L321.89 60.80 L320.84 60.06 L319.77 59.34 L318.69 58.64 L317.60 57.97 L316.50 57.31 L315.38 56.68 L314.26 56.06 L313.12 55.47 L311.97 54.90 L310.82 54.36 L309.65 53.83 L308.48 53.33 L307.30 52.85 L306.11 52.40 L304.91 51.96 L303.71 51.55 L302.50 51.16 L301.29 50.79 L300.07 50.45 L298.85 50.12 L297.62 49.82 L296.39 49.55 L295.15 49.29 L293.92 49.05 L292.68 48.84 L291.43 48.64 L290.19 48.47 L288.94 48.32 L287.70 48.19 L286.45 48.08 L285.21 47.99 L283.96 47.92 L282.71 47.87 L281.47 47.84 L280.22 47.82 L278.98 47.83 L277.74 47.86 L276.50 47.90 L275.26 47.96 L274.03 48.04 L272.79 48.14 L271.56 48.26 L270.33 48.40 L269.11 48.56 L267.88 48.73 L266.67 48.93 L265.45 49.15 L264.24 49.39 L263.04 49.65 L261.84 49.93 L260.65 50.23 L259.46 50.56 L258.28 50.91 L257.11 51.28 L255.95 51.67 L254.79 52.08 L253.64 52.52 L252.51 52.98 L251.38 53.46 L250.27 53.97 L249.16 54.50 L248.07 55.05 L246.99 55.62 L245.93 56.22 L244.87 56.83 L243.84 57.47 L242.81 58.12 L241.80 58.80 L240.80 59.49 L239.82 60.20 L238.85 60.92 L237.90 61.67 L236.96 62.43 L236.03 63.20 L235.12 63.99 L234.22 64.79 L233.34 65.60 L232.47 66.43 L231.62 67.27 L230.78 68.12 L229.96 68.99 L229.14 69.86 L228.35 70.75 L227.56 71.64 L226.79 72.54 L226.03 73.46 L225.29 74.38 L224.56 75.32 L223.84 76.26 L223.14 77.21 L222.46 78.18 L221.79 79.15 L221.13 80.13 L220.49 81.12 L219.87 82.12 L219.26 83.13 L218.67 84.15 L218.09 85.18 L217.54 86.22 L217.00 87.26 L216.47 88.32 L215.97 89.38 L215.48 90.45 L215.02 91.53 L214.57 92.61 L214.14 93.70 L213.73 94.80 L213.34 95.91 L212.97 97.02 L212.61 98.14 L212.28 99.27 L211.97 100.40 L211.68 101.53 L211.40 102.67 L211.15 103.81 L210.91 104.96 L210.70 106.11 L210.50 107.26 L210.32 108.42 L210.17 109.58 L210.03 110.74 L209.91 111.90 L209.81 113.07 L209.73 114.23 L209.67 115.40 L209.63 116.56 L209.60 117.73 L209.60 118.90 L209.61 120.07 L209.65 121.23 L209.70 122.40 L209.77 123.57 L209.86 124.73 L209.97 125.89 L210.10 127.05 L210.24 128.21 L210.41 129.37 L210.59 130.52 L210.79 131.67 L211.01 132.82 L211.25 133.96 L211.51 135.10 L211.79 136.24 L212.08 137.37 L212.40 138.50 L212.73 139.62 L213.08 140.74 L213.44 141.85 L213.83 142.96 L214.23 144.06 L214.66 145.15 L215.10 146.24 L215.55 147.32 L216.03 148.39 L216.52 149.46 L217.03 150.52 L217.56 151.57 L218.10 152.61 L218.67 153.65 L219.25 154.68 L219.84 155.69 L220.45 156.70 L221.08 157.70 L221.73 158.69 L222.39 159.68 L223.07 160.65 L223.76 161.61 L224.47 162.56 L225.20 163.50 L225.94 164.43 L226.69 165.34 L227.47 166.25 L228.25 167.15 L229.06 168.03 L229.87 168.90 L230.71 169.76 L231.55 170.61 L232.41 171.44 L233.29 172.26 L234.18 173.07 L235.08 173.86 L236.00 174.64 L236.93 175.41 L237.88 176.16 L238.84 176.89 L239.81 177.61 L240.80 178.32 L241.80 179.01 L242.81 179.68 L243.83 180.34 L244.87 180.97 L245.92 181.60 L246.98 182.20 L248.05 182.79 L249.14 183.36 L250.23 183.91 L251.34 184.44 L252.46 184.96 L253.59 185.45 L254.72 185.93 L255.87 186.38 L257.03 186.82 L258.19 187.23 L259.36 187.63 L260.55 188.00 L261.74 188.36 L262.93 188.69 L264.14 189.00 L265.35 189.29 L266.57 189.56 L267.79 189.80 L269.02 190.03 L270.26 190.23 L271.50 190.41 L272.74 190.57 L273.99 190.70 L275.24 190.81 L276.50 190.90 L277.76 190.96 L279.02 191.01 L280.28 191.02 L281.54 191.02 L282.81 190.99 L284.07 190.94 L285.34 190.86 L286.60 190.76 L287.86 190.64 L289.12 190.49 L290.38 190.32 L291.64 190.12 L292.89 189.90 L294.14 189.66 L295.39 189.39 L296.63 189.10 L297.87 188.79 L299.10 188.45 L300.32 188.09 L301.54 187.70 L302.75 187.29 L303.96 186.86 L305.16 186.41 L306.34 185.93 L307.52 185.43 L308.69 184.91 L309.86 184.36 L311.01 183.80 L312.15 183.21 L313.28 182.60 L314.40 181.97 L315.50 181.32 L316.60 180.65 L317.69 179.96 L318.76 179.25 L319.82 178.52 L320.86 177.77 L321.90 177.01 L322.92 176.22 L323.93 175.42 L324.92 174.60 L325.90 173.77 L326.87 172.91 L327.82 172.04 L328.76 171.16 L329.68 170.25 L330.58 169.34 L331.48 168.40 L332.35 167.45 L333.21 166.49 L334.06 165.51 L334.88 164.51 L335.69 163.50 L336.48 162.48 L337.25 161.44 L338.00 160.38 L338.74 159.32 L339.45 158.24 L340.14 157.14 L340.81 156.03 L341.46 154.91 L342.09 153.78 L342.70 152.63 L343.28 151.47 L343.85 150.30 L344.38 149.12 L344.90 147.93 L345.39 146.73 L345.85 145.52 L346.29 144.30 L346.71 143.07 L347.10 141.84 L347.47 140.60 L347.81 139.35 L348.13 138.09 L348.43 136.83 L348.70 135.57 L348.95 134.30 L349.18 133.03 L349.39 131.75 L349.57 130.47 L349.74 129.19 L349.88 127.91 L350.00 126.63 L350.10 125.34 L350.18 124.05 L350.24 122.76 L350.28 121.48 L350.30 120.19 L350.30 118.90" fill="none" stroke="#ff0000" stroke-width="2.5" pathLength="29.0000" stroke-dasharray="0.4997 0.5003" stroke-linejoin="round"/>
<path d="M345.80 118.90 L345.78 117.69 L345.74 116.48 L345.68 115.27 L345.59 114.07 L345.49 112.86 L345.36 111.66 L345.21 110.46 L345.04 109.27 L344.85 108.07 L344.64 106.89 L344.40 105.70 L344.15 104.52 L343.87 103.35 L343.58 102.18 L343.26 101.01 L342.92 99.85 L342.57 98.70 L342.19 97.56 L341.79 96.42 L341.38 95.29 L340.94 94.16 L340.48 93.05 L340.01 91.94 L339.51 90.84 L339.00 89.76 L338.47 88.68 L337.92 87.61 L337.35 86.55 L336.76 85.50 L336.16 84.46 L335.54 83.43 L334.90 82.41 L334.25 81.40 L333.58 80.40 L332.89 79.41 L332.19 78.44 L331.48 77.47 L330.74 76.52 L330.00 75.58 L329.24 74.65 L328.46 73.73 L327.67 72.83 L326.87 71.93 L326.05 71.05 L325.22 70.18 L324.38 69.32 L323.52 68.48 L322.65 67.65 L321.77 66.83 L320.87 66.02 L319.96 65.23 L319.04 64.45 L318.11 63.69 L317.16 62.94 L316.20 62.21 L315.22 61.49 L314.24 60.79 L313.24 60.10 L312.23 59.44 L311.21 58.79 L310.17 58.15 L309.13 57.54 L308.07 56.94 L307.00 56.37 L305.92 55.81 L304.83 55.27 L303.73 54.76 L302.62 54.26 L301.50 53.78 L300.37 53.33 L299.23 52.90 L298.08 52.49 L296.92 52.10 L295.76 51.73 L294.59 51.39 L293.41 51.07 L292.23 50.77 L291.04 50.50 L289.84 50.25 L288.65 50.02 L287.44 49.82 L286.23 49.64 L285.02 49.49 L283.81 49.36 L282.59 49.25 L281.38 49.17 L280.16 49.12 L278.94 49.09 L277.72 49.08 L276.50 49.10 L275.28 49.15 L274.07 49.22 L272.85 49.31 L271.64 49.43 L270.43 49.57 L269.23 49.74 L268.03 49.93 L266.84 50.14 L265.65 50.37 L264.46 50.62 L263.28 50.90 L262.11 51.20 L260.94 51.51 L259.78 51.85 L258.63 52.20 L257.48 52.58 L256.34 52.97 L255.21 53.38 L254.09 53.80 L252.97 54.25 L251.86 54.71 L250.76 55.19 L249.66 55.68 L248.58 56.18 L247.50 56.71 L246.43 57.25 L245.37 57.80 L244.32 58.37 L243.28 58.96 L242.24 59.57 L241.22 60.19 L240.21 60.83 L239.21 61.48 L238.23 62.16 L237.25 62.85 L236.29 63.55 L235.34 64.28 L234.41 65.02 L233.49 65.78 L232.58 66.56 L231.69 67.35 L230.82 68.17 L229.96 68.99 L229.12 69.84 L228.30 70.70 L227.50 71.58 L226.72 72.48 L225.96 73.39 L225.21 74.31 L224.48 75.25 L223.78 76.21 L223.09 77.17 L222.42 78.15 L221.77 79.14 L221.14 80.13 L220.52 81.14 L219.93 82.16 L219.35 83.19 L218.79 84.22 L218.24 85.27 L217.72 86.32 L217.21 87.37 L216.71 88.44 L216.24 89.51 L215.78 90.58 L215.33 91.67 L214.90 92.75 L214.49 93.84 L214.09 94.94 L213.70 96.04 L213.33 97.15 L212.97 98.26 L212.64 99.37 L212.31 100.49 L212.01 101.62 L211.72 102.75 L211.44 103.88 L211.19 105.02 L210.95 106.16 L210.73 107.30 L210.53 108.45 L210.35 109.60 L210.18 110.76 L210.04 111.91 L209.92 113.07 L209.81 114.24 L209.73 115.40 L209.66 116.57 L209.62 117.73 L209.60 118.90 L209.60 120.07 L209.62 121.24 L209.66 122.40 L209.73 123.57 L209.81 124.73 L209.92 125.90 L210.05 127.06 L210.19 128.22 L210.36 129.38 L210.55 130.53 L210.76 131.68 L210.98 132.83 L211.23 133.97 L211.49 135.11 L211.78 136.24 L212.08 137.37 L212.41 138.50 L212.75 139.61 L213.11 140.73 L213.49 141.84 L213.88 142.94 L214.29 144.03 L214.73 145.12 L215.17 146.20 L215.64 147.28 L216.12 148.35 L216.62 149.41 L217.14 150.46 L217.67 151.51 L218.22 152.55 L218.79 153.58 L219.37 154.60 L219.98 155.61 L220.59 156.61 L221.23 157.60 L221.88 158.59 L222.54 159.56 L223.23 160.52 L223.93 161.47 L224.64 162.42 L225.37 163.35 L226.12 164.27 L226.88 165.17 L227.65 166.07 L228.45 166.95 L229.25 167.83 L230.07 168.69 L230.91 169.53 L231.76 170.37 L232.63 171.19 L233.51 171.99 L234.40 172.78 L235.31 173.56 L236.23 174.32 L237.17 175.07 L238.12 175.80 L239.08 176.52 L240.06 177.22 L241.05 177.90 L242.05 178.57 L243.06 179.22 L244.09 179.86 L245.13 180.47 L246.18 181.07 L247.24 181.65 L248.31 182.21 L249.40 182.75 L250.49 183.28 L251.59 183.78 L252.71 184.26 L253.83 184.73 L254.97 185.17 L256.11 185.60 L257.26 186.00 L258.42 186.38 L259.59 186.74 L260.76 187.08 L261.94 187.40 L263.13 187.69 L264.32 187.96 L265.52 188.21 L266.73 188.44 L267.94 188.64 L269.15 188.82 L270.37 188.98 L271.59 189.11 L272.81 189.22 L274.04 189.30 L275.27 189.36 L276.50 189.40 L277.73 189.41 L278.96 189.40 L280.19 189.36 L281.42 189.30 L282.65 189.21 L283.88 189.10 L285.10 188.97 L286.33 188.81 L287.54 188.63 L288.76 188.43 L289.97 188.20 L291.18 187.95 L292.38 187.68 L293.58 187.38 L294.77 187.07 L295.95 186.73 L297.13 186.37 L298.30 185.99 L299.46 185.58 L300.62 185.16 L301.76 184.71 L302.90 184.25 L304.03 183.76 L305.15 183.25 L306.26 182.73 L307.37 182.18 L308.46 181.62 L309.54 181.04 L310.61 180.43 L311.67 179.81 L312.71 179.17 L313.75 178.51 L314.77 177.84 L315.78 177.14 L316.78 176.43 L317.77 175.70 L318.74 174.95 L319.70 174.19 L320.64 173.41 L321.57 172.61 L322.49 171.80 L323.39 170.97 L324.27 170.13 L325.14 169.27 L326.00 168.40 L326.84 167.51 L327.66 166.61 L328.46 165.69 L329.25 164.76 L330.03 163.82 L330.78 162.86 L331.52 161.89 L332.25 160.91 L332.95 159.91 L333.64 158.91 L334.31 157.89 L334.96 156.86 L335.59 155.83 L336.21 154.78 L336.81 153.72 L337.39 152.65 L337.95 151.57 L338.49 150.49 L339.02 149.39 L339.53 148.29 L340.01 147.18 L340.48 146.06 L340.93 144.93 L341.36 143.80 L341.78 142.66 L342.17 141.51 L342.54 140.36 L342.90 139.20 L343.23 138.04 L343.55 136.87 L343.84 135.69 L344.12 134.51 L344.37 133.33 L344.61 132.14 L344.82 130.95 L345.01 129.75 L345.19 128.55 L345.34 127.35 L345.47 126.15 L345.58 124.94 L345.66 123.74 L345.73 122.53 L345.77 121.32 L345.80 120.11 L345.80 118.90" fill="none" stroke="#00ff00" stroke-width="2.7" stroke-dasharray="2.2 1.6" stroke-linejoin="round"/>
<path d="M346.00 118.90 L345.97 117.69 L345.93 116.48 L345.86 115.27 L345.77 114.06 L345.66 112.85 L345.53 111.64 L345.38 110.44 L345.21 109.24 L345.01 108.05 L344.80 106.86 L344.57 105.67 L344.31 104.49 L344.04 103.31 L343.74 102.13 L343.43 100.97 L343.10 99.80 L342.74 98.65 L342.37 97.50 L341.98 96.35 L341.56 95.22 L341.13 94.09 L340.68 92.97 L340.21 91.85 L339.73 90.75 L339.22 89.65 L338.70 88.56 L338.15 87.49 L337.59 86.42 L337.02 85.36 L336.42 84.31 L335.81 83.26 L335.18 82.23 L334.53 81.22 L333.86 80.21 L333.18 79.21 L332.49 78.22 L331.77 77.25 L331.04 76.29 L330.30 75.34 L329.54 74.40 L328.76 73.47 L327.97 72.56 L327.16 71.66 L326.34 70.77 L325.50 69.90 L324.65 69.04 L323.79 68.19 L322.91 67.36 L322.02 66.54 L321.11 65.74 L320.19 64.95 L319.25 64.18 L318.31 63.42 L317.35 62.68 L316.37 61.95 L315.39 61.25 L314.39 60.56 L313.38 59.88 L312.36 59.23 L311.32 58.59 L310.28 57.97 L309.22 57.37 L308.15 56.78 L307.07 56.22 L305.98 55.68 L304.88 55.15 L303.77 54.65 L302.65 54.16 L301.53 53.70 L300.39 53.26 L299.25 52.84 L298.09 52.44 L296.93 52.06 L295.77 51.71 L294.59 51.37 L293.41 51.06 L292.23 50.77 L291.04 50.51 L289.84 50.27 L288.64 50.05 L287.44 49.85 L286.23 49.68 L285.02 49.54 L283.80 49.42 L282.59 49.32 L281.37 49.24 L280.15 49.20 L278.93 49.17 L277.72 49.17 L276.50 49.20 L275.28 49.25 L274.07 49.33 L272.86 49.43 L271.65 49.56 L270.45 49.71 L269.25 49.88 L268.05 50.08 L266.86 50.30 L265.67 50.55 L264.49 50.82 L263.32 51.11 L262.16 51.42 L261.00 51.76 L259.85 52.12 L258.71 52.50 L257.57 52.90 L256.45 53.32 L255.34 53.76 L254.23 54.23 L253.14 54.71 L252.05 55.21 L250.98 55.73 L249.92 56.28 L248.87 56.83 L247.83 57.41 L246.80 58.01 L245.79 58.62 L244.79 59.26 L243.80 59.90 L242.82 60.57 L241.86 61.25 L240.91 61.95 L239.98 62.67 L239.06 63.40 L238.16 64.14 L237.27 64.91 L236.40 65.68 L235.54 66.47 L234.70 67.28 L233.87 68.10 L233.06 68.93 L232.27 69.78 L231.49 70.64 L230.74 71.51 L229.99 72.39 L229.27 73.29 L228.56 74.20 L227.87 75.11 L227.20 76.04 L226.54 76.98 L225.90 77.93 L225.28 78.89 L224.68 79.85 L224.09 80.82 L223.52 81.80 L222.97 82.79 L222.43 83.79 L221.91 84.79 L221.41 85.80 L220.92 86.81 L220.44 87.83 L219.99 88.85 L219.55 89.88 L219.12 90.91 L218.71 91.95 L218.31 92.99 L217.93 94.04 L217.56 95.09 L217.20 96.14 L216.86 97.19 L216.54 98.25 L216.23 99.32 L215.93 100.38 L215.65 101.45 L215.38 102.52 L215.13 103.60 L214.90 104.68 L214.68 105.76 L214.47 106.84 L214.28 107.93 L214.11 109.02 L213.95 110.11 L213.81 111.20 L213.69 112.30 L213.58 113.40 L213.49 114.49 L213.42 115.59 L213.36 116.70 L213.32 117.80 L213.30 118.90 L213.30 120.00 L213.31 121.11 L213.34 122.21 L213.39 123.31 L213.46 124.42 L213.54 125.52 L213.65 126.62 L213.77 127.72 L213.90 128.81 L214.06 129.91 L214.23 131.00 L214.42 132.10 L214.62 133.19 L214.84 134.27 L215.08 135.36 L215.34 136.44 L215.61 137.52 L215.90 138.59 L216.21 139.66 L216.53 140.73 L216.87 141.79 L217.22 142.85 L217.60 143.90 L217.98 144.95 L218.39 146.00 L218.81 147.04 L219.25 148.07 L219.70 149.10 L220.17 150.12 L220.65 151.14 L221.16 152.15 L221.68 153.16 L222.21 154.16 L222.76 155.15 L223.33 156.13 L223.92 157.10 L224.52 158.07 L225.13 159.03 L225.77 159.98 L226.42 160.92 L227.08 161.86 L227.77 162.78 L228.46 163.69 L229.18 164.60 L229.91 165.49 L230.66 166.37 L231.42 167.25 L232.20 168.11 L232.99 168.95 L233.80 169.79 L234.62 170.61 L235.46 171.43 L236.32 172.22 L237.19 173.01 L238.07 173.78 L238.97 174.53 L239.89 175.28 L240.82 176.00 L241.76 176.71 L242.72 177.41 L243.69 178.09 L244.68 178.75 L245.68 179.40 L246.69 180.03 L247.71 180.64 L248.75 181.23 L249.80 181.80 L250.86 182.36 L251.93 182.90 L253.02 183.41 L254.11 183.91 L255.22 184.39 L256.34 184.85 L257.47 185.28 L258.60 185.70 L259.75 186.09 L260.90 186.46 L262.06 186.81 L263.24 187.14 L264.41 187.45 L265.60 187.73 L266.79 187.99 L267.99 188.22 L269.19 188.44 L270.40 188.62 L271.61 188.79 L272.83 188.93 L274.05 189.04 L275.27 189.13 L276.50 189.20 L277.73 189.24 L278.96 189.26 L280.19 189.25 L281.42 189.21 L282.65 189.15 L283.88 189.07 L285.10 188.96 L286.33 188.83 L287.55 188.67 L288.77 188.49 L289.99 188.28 L291.20 188.05 L292.41 187.80 L293.61 187.52 L294.81 187.22 L296.00 186.90 L297.18 186.55 L298.36 186.18 L299.53 185.79 L300.70 185.38 L301.85 184.94 L303.00 184.48 L304.13 184.00 L305.26 183.50 L306.38 182.98 L307.49 182.44 L308.59 181.88 L309.68 181.29 L310.75 180.69 L311.82 180.07 L312.87 179.43 L313.91 178.77 L314.94 178.09 L315.95 177.39 L316.95 176.68 L317.94 175.94 L318.92 175.19 L319.88 174.43 L320.83 173.64 L321.76 172.84 L322.68 172.03 L323.59 171.19 L324.48 170.35 L325.35 169.49 L326.21 168.61 L327.05 167.72 L327.88 166.81 L328.69 165.90 L329.49 164.96 L330.27 164.02 L331.03 163.06 L331.78 162.09 L332.51 161.10 L333.22 160.11 L333.91 159.10 L334.59 158.08 L335.25 157.05 L335.89 156.01 L336.51 154.96 L337.12 153.90 L337.70 152.82 L338.27 151.74 L338.82 150.65 L339.34 149.55 L339.85 148.44 L340.34 147.33 L340.81 146.20 L341.27 145.07 L341.70 143.93 L342.11 142.78 L342.50 141.62 L342.87 140.46 L343.22 139.30 L343.55 138.13 L343.86 136.95 L344.15 135.77 L344.42 134.58 L344.66 133.39 L344.89 132.19 L345.10 131.00 L345.28 129.79 L345.45 128.59 L345.59 127.38 L345.71 126.17 L345.81 124.96 L345.89 123.75 L345.95 122.54 L345.99 121.33 L346.00 120.11 L346.00 118.90" fill="none" stroke="#ff00ff" stroke-width="2.5" stroke-linejoin="round"/>
<path d="M342.60 118.90 L342.58 117.75 L342.55 116.59 L342.50 115.44 L342.44 114.29 L342.35 113.14 L342.26 111.99 L342.15 110.84 L342.02 109.69 L341.87 108.55 L341.71 107.40 L341.54 106.26 L341.34 105.12 L341.13 103.98 L340.91 102.84 L340.66 101.71 L340.40 100.58 L340.13 99.45 L339.83 98.32 L339.52 97.20 L339.19 96.08 L338.84 94.97 L338.48 93.86 L338.10 92.75 L337.70 91.65 L337.28 90.56 L336.84 89.47 L336.39 88.38 L335.92 87.31 L335.43 86.23 L334.92 85.17 L334.40 84.11 L333.85 83.06 L333.29 82.02 L332.71 80.98 L332.12 79.96 L331.50 78.94 L330.87 77.93 L330.21 76.93 L329.54 75.95 L328.86 74.97 L328.15 74.00 L327.43 73.05 L326.68 72.10 L325.93 71.17 L325.15 70.25 L324.35 69.34 L323.54 68.45 L322.72 67.57 L321.87 66.71 L321.01 65.86 L320.13 65.02 L319.23 64.20 L318.32 63.40 L317.40 62.61 L316.45 61.84 L315.50 61.08 L314.52 60.35 L313.54 59.63 L312.53 58.93 L311.52 58.25 L310.49 57.58 L309.44 56.94 L308.39 56.32 L307.32 55.71 L306.24 55.13 L305.14 54.57 L304.04 54.03 L302.92 53.51 L301.79 53.01 L300.65 52.54 L299.51 52.09 L298.35 51.66 L297.18 51.25 L296.01 50.87 L294.82 50.51 L293.63 50.18 L292.44 49.87 L291.23 49.59 L290.02 49.33 L288.81 49.09 L287.59 48.89 L286.37 48.70 L285.14 48.55 L283.91 48.42 L282.68 48.31 L281.44 48.24 L280.21 48.19 L278.97 48.16 L277.73 48.17 L276.50 48.20 L275.27 48.26 L274.04 48.34 L272.81 48.46 L271.58 48.59 L270.36 48.76 L269.15 48.95 L267.94 49.17 L266.73 49.41 L265.54 49.68 L264.35 49.97 L263.16 50.29 L261.99 50.63 L260.82 50.99 L259.66 51.38 L258.52 51.79 L257.38 52.22 L256.25 52.68 L255.14 53.15 L254.03 53.65 L252.94 54.17 L251.86 54.71 L250.79 55.27 L249.74 55.85 L248.70 56.45 L247.67 57.07 L246.65 57.70 L245.65 58.36 L244.67 59.03 L243.70 59.72 L242.74 60.43 L241.80 61.15 L240.88 61.89 L239.97 62.65 L239.08 63.42 L238.21 64.21 L237.35 65.02 L236.51 65.84 L235.69 66.67 L234.89 67.52 L234.11 68.38 L233.34 69.25 L232.59 70.14 L231.86 71.03 L231.16 71.95 L230.47 72.87 L229.80 73.80 L229.15 74.74 L228.52 75.70 L227.91 76.66 L227.32 77.63 L226.74 78.61 L226.19 79.59 L225.65 80.58 L225.14 81.58 L224.64 82.59 L224.16 83.59 L223.69 84.61 L223.25 85.62 L222.82 86.64 L222.40 87.67 L222.00 88.69 L221.62 89.72 L221.25 90.75 L220.90 91.78 L220.56 92.82 L220.24 93.85 L219.92 94.89 L219.63 95.92 L219.34 96.96 L219.07 98.00 L218.80 99.03 L218.56 100.07 L218.32 101.11 L218.10 102.15 L217.89 103.19 L217.69 104.24 L217.50 105.28 L217.33 106.32 L217.17 107.37 L217.03 108.41 L216.89 109.46 L216.77 110.51 L216.67 111.55 L216.57 112.60 L216.49 113.65 L216.43 114.70 L216.37 115.75 L216.34 116.80 L216.31 117.85 L216.30 118.90 L216.30 119.95 L216.32 121.00 L216.35 122.05 L216.40 123.10 L216.46 124.15 L216.53 125.20 L216.62 126.25 L216.72 127.30 L216.84 128.35 L216.97 129.40 L217.11 130.44 L217.27 131.49 L217.45 132.53 L217.63 133.58 L217.83 134.62 L218.05 135.66 L218.28 136.70 L218.52 137.74 L218.78 138.78 L219.05 139.81 L219.34 140.84 L219.64 141.87 L219.95 142.90 L220.28 143.93 L220.62 144.96 L220.98 145.98 L221.36 147.00 L221.74 148.01 L222.15 149.03 L222.57 150.04 L223.00 151.05 L223.45 152.05 L223.92 153.05 L224.40 154.04 L224.90 155.03 L225.41 156.02 L225.95 157.00 L226.49 157.97 L227.06 158.94 L227.64 159.90 L228.24 160.85 L228.85 161.80 L229.48 162.74 L230.13 163.68 L230.80 164.60 L231.48 165.52 L232.18 166.42 L232.90 167.32 L233.63 168.21 L234.39 169.09 L235.16 169.96 L235.94 170.81 L236.74 171.66 L237.56 172.49 L238.40 173.31 L239.26 174.12 L240.13 174.91 L241.01 175.69 L241.92 176.45 L242.84 177.20 L243.77 177.94 L244.73 178.66 L245.70 179.36 L246.68 180.04 L247.68 180.71 L248.69 181.36 L249.72 181.99 L250.76 182.60 L251.82 183.19 L252.89 183.76 L253.98 184.32 L255.07 184.85 L256.18 185.36 L257.30 185.84 L258.44 186.31 L259.58 186.75 L260.74 187.17 L261.91 187.56 L263.08 187.93 L264.27 188.28 L265.46 188.60 L266.66 188.89 L267.87 189.16 L269.09 189.41 L270.31 189.63 L271.54 189.82 L272.77 189.98 L274.01 190.11 L275.26 190.22 L276.50 190.30 L277.75 190.35 L279.00 190.37 L280.25 190.37 L281.50 190.33 L282.74 190.27 L283.99 190.18 L285.24 190.07 L286.48 189.92 L287.72 189.75 L288.96 189.55 L290.19 189.33 L291.42 189.08 L292.64 188.80 L293.85 188.49 L295.06 188.16 L296.26 187.81 L297.45 187.43 L298.63 187.02 L299.81 186.59 L300.97 186.14 L302.13 185.66 L303.27 185.16 L304.40 184.64 L305.52 184.09 L306.63 183.52 L307.73 182.93 L308.81 182.32 L309.88 181.68 L310.94 181.03 L311.98 180.36 L313.01 179.66 L314.02 178.95 L315.02 178.22 L316.00 177.47 L316.97 176.70 L317.92 175.91 L318.86 175.11 L319.77 174.29 L320.67 173.45 L321.56 172.60 L322.42 171.73 L323.27 170.85 L324.11 169.95 L324.92 169.04 L325.71 168.11 L326.49 167.18 L327.25 166.23 L327.99 165.26 L328.72 164.29 L329.42 163.30 L330.10 162.31 L330.77 161.30 L331.42 160.28 L332.05 159.26 L332.66 158.22 L333.25 157.18 L333.82 156.13 L334.38 155.07 L334.91 154.00 L335.43 152.92 L335.92 151.84 L336.40 150.75 L336.86 149.66 L337.30 148.56 L337.73 147.45 L338.13 146.34 L338.52 145.23 L338.89 144.11 L339.24 142.98 L339.57 141.85 L339.88 140.72 L340.18 139.59 L340.46 138.45 L340.72 137.31 L340.96 136.17 L341.19 135.03 L341.39 133.88 L341.59 132.73 L341.76 131.59 L341.92 130.43 L342.06 129.28 L342.18 128.13 L342.29 126.98 L342.38 125.82 L342.46 124.67 L342.52 123.52 L342.56 122.36 L342.59 121.21 L342.60 120.05 L342.60 118.90" fill="none" stroke="#000000" stroke-width="3.3" pathLength="16.4713" stroke-dasharray="0.5258 0.4742" stroke-linejoin="round"/>
<g font-family="'Liberation Sans', Arial, sans-serif" fill="#262626" stroke="#262626" stroke-width="0.2" font-size="13">
<text x="50.20" y="39.83" text-anchor="end" font-size="13.7">0.1</text>
<text x="49.10" y="82.01" text-anchor="end" font-size="13.7">0.05</text>
<text x="51.15" y="124.20" text-anchor="end" font-size="13.7">0</text>
<text x="48.25" y="166.39" text-anchor="end" font-size="13.7">-0.05</text>
<text x="50.20" y="208.58" text-anchor="end" font-size="13.7">-0.1</text>
<text x="84.70" y="237.1" text-anchor="middle" font-size="13.3">0.7</text>
<text x="126.95" y="237.1" text-anchor="middle" font-size="13.3">0.75</text>
<text x="169.20" y="237.1" text-anchor="middle" font-size="13.3">0.8</text>
<text x="230.95" y="237.1" text-anchor="middle" font-size="13.3">0.7</text>
<text x="273.20" y="237.1" text-anchor="middle" font-size="13.3">0.75</text>
<text x="315.45" y="237.1" text-anchor="middle" font-size="13.3">0.8</text>
<text x="128.3" y="255" text-anchor="middle" font-size="14.6">R (m)</text>
<text x="275.7" y="255" text-anchor="middle" font-size="14.6">R (m)</text>
<text transform="translate(10.9 121.9) rotate(-90)" text-anchor="middle" font-size="14.6">Z (m)</text>
</g>
<g font-family="'Liberation Serif', 'DejaVu Serif', serif" fill="#1a1a1a" font-size="14">
<text x="110.60" y="10.6" font-style="italic" font-size="15.3">ϕ</text><text x="123.00" y="11.5" textLength="11.2" lengthAdjust="spacingAndGlyphs">=</text><text x="137.40" y="10.6" font-size="14.3" textLength="8.20" lengthAdjust="spacingAndGlyphs">0</text><text x="145.70" y="8.9" font-size="12">°</text>
<text x="254.40" y="10.6" font-style="italic" font-size="15.3">ϕ</text><text x="266.80" y="11.5" textLength="11.2" lengthAdjust="spacingAndGlyphs">=</text><text x="280.70" y="10.6" font-size="14.3" textLength="15.30" lengthAdjust="spacingAndGlyphs">36</text><text x="296.20" y="8.9" font-size="12">°</text>
</g>
<rect x="351.1" y="17.80" width="0.9" height="202.10" fill="#dcdcdc"/>
<rect x="212.5" y="136.5" width="94" height="74.5" fill="#fff" stroke="#606060" stroke-width="0.9"/>
<g font-family="'Liberation Sans', Arial, sans-serif" fill="#000" font-size="11.6" stroke="#000" stroke-width="0.15">
<text x="244.7" y="148.50">Ha = 0.54</text>
<text x="244.7" y="162.90">Ha = 0.55</text>
<text x="244.7" y="177.50">Ha = 0.58</text>
<text x="244.7" y="192.10">Ha = 0.64</text>
<text x="244.7" y="206.20">Ha = 0.74</text>
</g>
<path d="M216 144.60H244" fill="none" stroke="#0000ff" stroke-width="3"/>
<path d="M218.1 159.00H244" fill="none" stroke="#ff0000" stroke-width="2.5" stroke-dasharray="7.5 6.8"/>
<path d="M216.9 173.60H243" fill="none" stroke="#00ff00" stroke-width="2.7" stroke-dasharray="2.2 1.6"/>
<path d="M216 188.20H243.5" fill="none" stroke="#ff00ff" stroke-width="2.5"/>
<path d="M217.5 202.30H229.8" fill="none" stroke="#000" stroke-width="4"/>
</svg>
</body></html>
